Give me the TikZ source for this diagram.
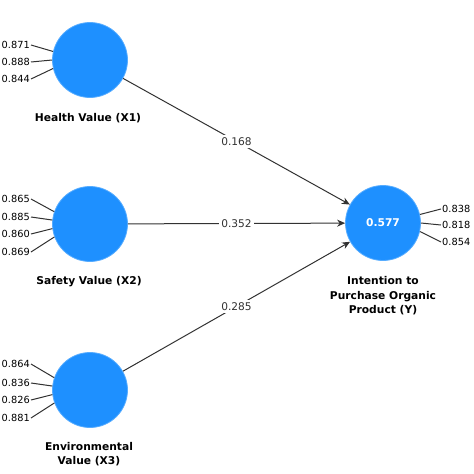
\documentclass[tikz,border=0pt]{standalone}
\usepackage{fontspec}
\setmainfont{DejaVu Sans}
\usetikzlibrary{arrows.meta,positioning}
\definecolor{plsblue}{RGB}{30,144,255}
\definecolor{linkgray}{RGB}{50,50,50}

\begin{document}
\begin{tikzpicture}[x=1pt, y=-1pt,
  latent/.style={circle, fill=plsblue, draw=plsblue!75!white, line width=0.8pt, minimum size=75pt, inner sep=0pt},
  lvlabel/.style={font=\fontsize{10.7}{14.5}\selectfont\bfseries, align=center},
  load/.style={font=\fontsize{9.8}{12}\selectfont, inner sep=1pt},
  coef/.style={font=\fontsize{10.6}{12}\selectfont, fill=white, inner sep=2pt, pos=0.5},
  link/.style={linkgray, line width=1pt},
  arrow/.style={-{Stealth[length=8pt, width=7pt]}, linkgray, line width=1pt},
]
\useasboundingbox (0,0) rectangle (474,474);

% === Latent variables ===
\node[latent] (x1) at (90,60) {};
\node[latent] (x2) at (90,224) {};
\node[latent] (x3) at (90,390) {};
\node[latent, text=white, font=\fontsize{10.7}{12}\selectfont\bfseries] (y) at (383,223) {0.577};

\node[lvlabel] (x1name) at (88,118) {Health Value (X1)};
\node[lvlabel] (x2name) at (89,282) {Safety Value (X2)};
\node[lvlabel] (x3name) at (89,454) {Environmental\\Value (X3)};
\node[lvlabel] (yname) at (383,296) {Intention to\\Purchase Organic\\Product (Y)};

% === Outer loadings ===
\node[load, anchor=east] (l11) at (31,45) {0.871};
\node[load, anchor=east] (l12) at (31,62) {0.888};
\node[load, anchor=east] (l13) at (31,79) {0.844};
\draw[link] (l11.east) -- (x1.167);
\draw[link] (l12.east) -- (x1.180);
\draw[link] (l13.east) -- (x1.193);

\node[load, anchor=east] (l21) at (31,199) {0.865};
\node[load, anchor=east] (l22) at (31,217) {0.885};
\node[load, anchor=east] (l23) at (31,234) {0.860};
\node[load, anchor=east] (l24) at (31,252) {0.869};
\draw[link] (l21.east) -- (x2.161);
\draw[link] (l22.east) -- (x2.174);
\draw[link] (l23.east) -- (x2.187);
\draw[link] (l24.east) -- (x2.200);

\node[load, anchor=east] (l31) at (31,364) {0.864};
\node[load, anchor=east] (l32) at (31,383) {0.836};
\node[load, anchor=east] (l33) at (31,400) {0.826};
\node[load, anchor=east] (l34) at (31,418) {0.881};
\draw[link] (l31.east) -- (x3.161);
\draw[link] (l32.east) -- (x3.174);
\draw[link] (l33.east) -- (x3.187);
\draw[link] (l34.east) -- (x3.200);

\node[load, anchor=west] (ly1) at (441,209) {0.838};
\node[load, anchor=west] (ly2) at (441,225) {0.818};
\node[load, anchor=west] (ly3) at (441,242) {0.854};
\draw[link] (y.13) -- (ly1.west);
\draw[link] (y.0) -- (ly2.west);
\draw[link] (y.-13) -- (ly3.west);

% === Path coefficients ===
\draw[arrow] (x1) -- (y) node[coef] {0.168};
\draw[arrow] (x2) -- (y) node[coef] {0.352};
\draw[arrow] (x3) -- (y) node[coef] {0.285};

\end{tikzpicture}
\end{document}
